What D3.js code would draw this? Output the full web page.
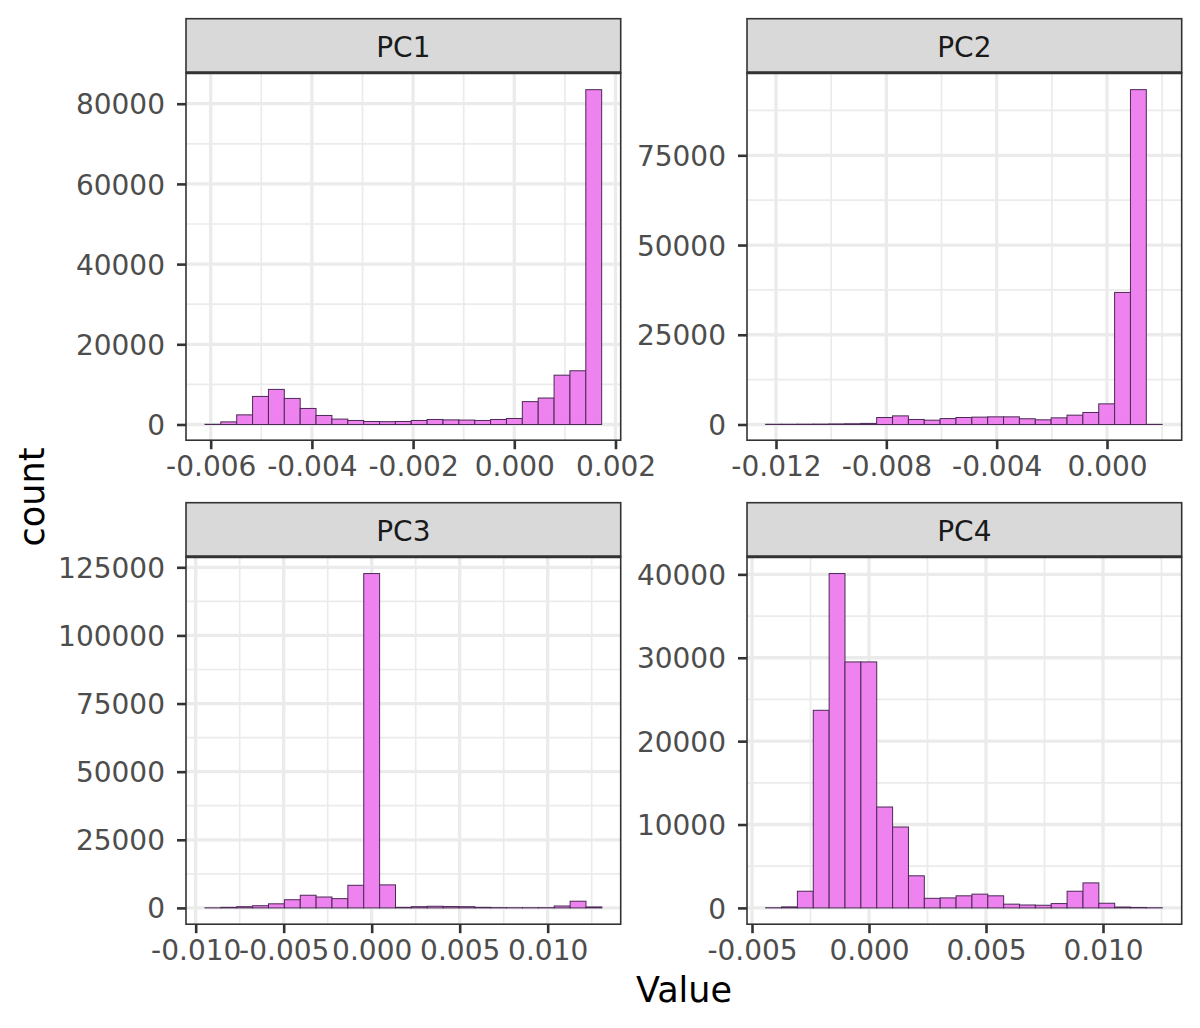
<!DOCTYPE html>
<html>
<head>
<meta charset="utf-8">
<script src="https://cdnjs.cloudflare.com/ajax/libs/d3/7.8.5/d3.min.js"></script>
<style>
    body { margin: 0; background: white; }
    text { font-family: "DejaVu Sans", sans-serif; }
</style>
</head>
<body>
<svg id="chart" width="1200" height="1028"></svg>
<script>
const panelNames = ["PC1", "PC2", "PC3", "PC4"];

// bin counts
const pc1Counts = [50, 650, 2400, 7000, 8750, 6500, 4000, 2250, 1350, 1000, 750, 700, 750, 1000, 1250, 1150, 1100, 1000, 1250, 1500, 5700, 6600, 12300, 13400, 83500];
const pc2Counts = [60, 60, 80, 100, 150, 200, 300, 1950, 2400, 1400, 1200, 1650, 1950, 2050, 2130, 2130, 1600, 1300, 1850, 2600, 3350, 5750, 36800, 93300, 30];
const pc3Counts = [30, 200, 450, 800, 1500, 3000, 4650, 4000, 3400, 8300, 122700, 8450, 200, 450, 600, 500, 450, 200, 100, 60, 60, 80, 700, 2450, 350];
const pc4Counts = [20, 120, 2000, 23700, 40100, 29500, 29500, 12100, 9700, 3850, 1150, 1200, 1450, 1650, 1450, 450, 350, 320, 520, 2000, 3000, 560, 100, 50, 20];
const allCounts = [pc1Counts, pc2Counts, pc3Counts, pc4Counts];

// first bin edge and bin width of each panel
const binStarts = [-0.006113, -0.012375, -0.009472, -0.004416];
const binWidths = [0.0003136, 0.000575, 0.000902, 0.000678];

const xDomains = [[-0.006488, 0.002103], [-0.013051, 0.002708], [-0.010551, 0.014148], [-0.005214, 0.013363]];
const yDomains = [[-3918, 87735], [-4377, 98020], [-5980, 128890], [-1954, 42120]];

const xMajor = [
    [-0.006, -0.004, -0.002, 0, 0.002],
    [-0.012, -0.008, -0.004, 0],
    [-0.01, -0.005, 0, 0.005, 0.01],
    [-0.005, 0, 0.005, 0.01]
];
const xMinor = [
    [-0.005, -0.003, -0.001, 0.001],
    [-0.01, -0.006, -0.002, 0.002],
    [-0.0075, -0.0025, 0.0025, 0.0075, 0.0125],
    [-0.0025, 0.0025, 0.0075, 0.0125]
];
const yMajor = [
    [0, 20000, 40000, 60000, 80000],
    [0, 25000, 50000, 75000],
    [0, 25000, 50000, 75000, 100000, 125000],
    [0, 10000, 20000, 30000, 40000]
];
const yMinor = [
    [10000, 30000, 50000, 70000],
    [12500, 37500, 62500, 87500],
    [12500, 37500, 62500, 87500, 112500],
    [5000, 15000, 25000, 35000]
];

// panel layout
const lefts = [186, 747, 186, 747];
const stripTops = [18.7, 18.7, 502.7, 502.7];
const panelWidth = 434.7;
const stripHeight = 54;
const panelHeight = 367.5;

const svg = d3.select("#chart");

function drawPanel(i) {
    var left = lefts[i];
    var top = stripTops[i] + stripHeight;

    var x = d3.scaleLinear().domain(xDomains[i]).range([0, panelWidth]);
    var y = d3.scaleLinear().domain(yDomains[i]).range([panelHeight, 0]);

    var g = svg.append("g").attr("transform", "translate(" + left + "," + top + ")");

    // Grid lines, minor first
    var addGrid = (values, isX, width) => {
        values.forEach(v => {
            g.append("line")
                .attr("x1", isX ? x(v) : 0)
                .attr("x2", isX ? x(v) : panelWidth)
                .attr("y1", isX ? 0 : y(v))
                .attr("y2", isX ? panelHeight : y(v))
                .attr("stroke", "#ebebeb")
                .attr("stroke-width", width);
        });
    };
    addGrid(xMinor[i], true, 1.7);
    addGrid(yMinor[i], false, 1.7);
    addGrid(xMajor[i], true, 3.3);
    addGrid(yMajor[i], false, 3.3);

    // Histogram bars
    var bins = allCounts[i].map((count, k) => ({
        x0: binStarts[i] + k * binWidths[i],
        x1: binStarts[i] + (k + 1) * binWidths[i],
        count: count
    }));
    g.selectAll("rect.bar")
        .data(bins)
        .enter().append("rect")
        .attr("class", "bar")
        .attr("x", d => x(d.x0))
        .attr("y", d => y(d.count))
        .attr("width", d => x(d.x1) - x(d.x0))
        .attr("height", d => y(0) - y(d.count))
        .attr("fill", "violet")
        .attr("stroke", "#4a2a55")
        .attr("stroke-width", 1);

    // Panel border
    g.append("rect")
        .attr("width", panelWidth)
        .attr("height", panelHeight)
        .attr("fill", "none")
        .attr("stroke", "#333333")
        .attr("stroke-width", 1.6);

    // Axes
    var xAxis = d3.axisBottom(x).tickValues(xMajor[i]).tickSize(9).tickPadding(7)
        .tickFormat(d => d.toFixed(3));
    var yAxis = d3.axisLeft(y).tickValues(yMajor[i]).tickSize(9).tickPadding(12)
        .tickFormat(d => d);
    var xAxisG = g.append("g").attr("transform", "translate(0," + panelHeight + ")").call(xAxis);
    var yAxisG = g.append("g").call(yAxis);
    [xAxisG, yAxisG].forEach(axis => {
        axis.select(".domain").remove();
        axis.selectAll("line").attr("stroke", "#333333").attr("stroke-width", 2.6);
        axis.selectAll("text")
            .attr("fill", "#4d4d4d")
            .style("font-size", "28px");
    });
    yAxisG.selectAll("text").attr("dy", "0.36em");

    // Strip on top of the panel
    svg.append("rect")
        .attr("x", left)
        .attr("y", stripTops[i])
        .attr("width", panelWidth)
        .attr("height", stripHeight)
        .attr("fill", "#d9d9d9")
        .attr("stroke", "#333333")
        .attr("stroke-width", 1.6);
    svg.append("line")
        .attr("x1", left)
        .attr("x2", left + panelWidth)
        .attr("y1", top)
        .attr("y2", top)
        .attr("stroke", "#333333")
        .attr("stroke-width", 3);
    svg.append("text")
        .attr("x", left + panelWidth / 2)
        .attr("y", stripTops[i] + stripHeight / 2 + 1)
        .attr("dy", ".35em")
        .attr("fill", "#1a1a1a")
        .style("text-anchor", "middle")
        .style("font-size", "28px")
        .text(panelNames[i]);
}

panelNames.forEach((name, i) => drawPanel(i));

// Shared axis titles
svg.append("text")
    .attr("x", 684)
    .attr("y", 1002)
    .style("text-anchor", "middle")
    .style("font-size", "35px")
    .text("Value");
svg.append("text")
    .attr("transform", "translate(44,497) rotate(-90)")
    .style("text-anchor", "middle")
    .style("font-size", "35px")
    .text("count");
</script>
</body>
</html>
